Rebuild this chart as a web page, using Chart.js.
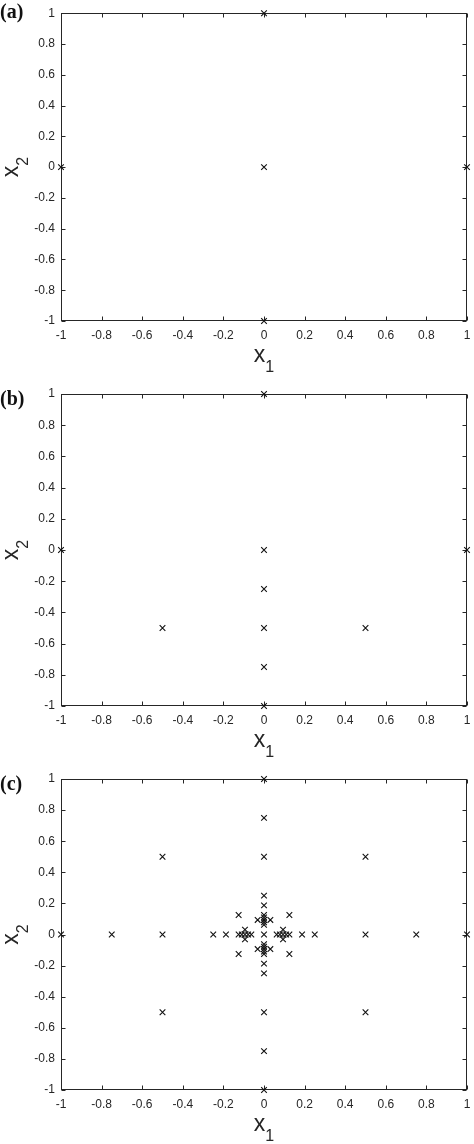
<!DOCTYPE html>
<html>
<head>
<meta charset="utf-8">
<script src="https://cdn.jsdelivr.net/npm/chart.js@4.4.1/dist/chart.umd.min.js"></script>
<style>
  html, body { margin: 0; padding: 0; background: #fff; width: 474px; height: 1144px; overflow: hidden; }
  .panel { position: absolute; left: 0; width: 474px; }
</style>
</head>
<body>
<div class="panel" style="top:0px;height:380px"><canvas id="ca" width="474" height="380"></canvas></div>
<div class="panel" style="top:380px;height:385px"><canvas id="cb" width="474" height="385"></canvas></div>
<div class="panel" style="top:765px;height:379px"><canvas id="cc" width="474" height="379"></canvas></div>
<script>
// ---- data ----
const tickValues = [-1, -0.8, -0.6, -0.4, -0.2, 0, 0.2, 0.4, 0.6, 0.8, 1];
const tickLabels = ['-1', '-0.8', '-0.6', '-0.4', '-0.2', '0', '0.2', '0.4', '0.6', '0.8', '1'];
const panelLabels = ['(a)', '(b)', '(c)'];
const xTitle = ['x', '1'];
const yTitle = ['x', '2'];

const aX = [0, -1, 1, 0, 0];
const aY = [0, 0, 0, -1, 1];

const bX = [0, -1, 1, 0, 0, 0, 0, 0, -0.5, 0.5];
const bY = [0, 0, 0, -1, 1, -0.25, -0.5, -0.75, -0.5, -0.5];

const cX = [
  0,
  -1, 1, 0, 0,
  -0.75, 0.75, 0, 0,
  -0.5, 0.5, 0, 0,
  -0.5, 0.5, -0.5, 0.5,
  -0.25, 0.25, 0, 0,
  -0.1875, 0.1875, 0, 0,
  -0.125, 0.125, -0.125, 0.125,
  -0.125, -0.109375, -0.09375, -0.078125, -0.0625, -0.09375, -0.09375,
  0.125, 0.109375, 0.09375, 0.078125, 0.0625, 0.09375, 0.09375,
  0, 0, 0, 0, 0, 0.03125, -0.03125,
  0, 0, 0, 0, 0, 0.03125, -0.03125
];
const cY = [
  0,
  0, 0, -1, 1,
  0, 0, -0.75, 0.75,
  0, 0, -0.5, 0.5,
  -0.5, -0.5, 0.5, 0.5,
  0, 0, -0.25, 0.25,
  0, 0, -0.1875, 0.1875,
  -0.125, -0.125, 0.125, 0.125,
  0, 0, 0, 0, 0, 0.03125, -0.03125,
  0, 0, 0, 0, 0, 0.03125, -0.03125,
  0.125, 0.109375, 0.09375, 0.078125, 0.0625, 0.09375, 0.09375,
  -0.125, -0.109375, -0.09375, -0.078125, -0.0625, -0.09375, -0.09375
];

// ---- styling ----
const AXIS_COLOR = '#262626';
const SANS = '"Liberation Sans", Arial, sans-serif';

const framePlugin = {
  id: 'frame',
  beforeDatasetsDraw(chart) {
    const ctx = chart.ctx;
    const a = chart.chartArea;
    const xs = chart.scales.x, ys = chart.scales.y;
    ctx.save();
    ctx.strokeStyle = AXIS_COLOR;
    ctx.lineWidth = 1;
    const L = Math.round(a.left) + 0.5, R = Math.round(a.right) - 0.5;
    const T = Math.round(a.top) + 0.5, B = Math.round(a.bottom) - 0.5;
    ctx.strokeRect(L, T, R - L, B - T);
    const tl = 4;
    ctx.beginPath();
    xs.ticks.forEach(t => {
      const px = Math.round(xs.getPixelForValue(t.value)) + 0.5;
      ctx.moveTo(px, B); ctx.lineTo(px, B - tl);
      ctx.moveTo(px, T); ctx.lineTo(px, T + tl);
    });
    ys.ticks.forEach(t => {
      const py = Math.round(ys.getPixelForValue(t.value)) + 0.5;
      ctx.moveTo(L, py); ctx.lineTo(L + tl, py);
      ctx.moveTo(R, py); ctx.lineTo(R - tl, py);
    });
    ctx.stroke();
    ctx.restore();
  },
  afterDraw(chart) {
    const ctx = chart.ctx;
    const a = chart.chartArea;
    const o = chart.options.plugins.frame;
    ctx.save();
    ctx.fillStyle = '#111';
    // panel label
    ctx.font = 'bold 20px "Liberation Serif", "Times New Roman", serif';
    ctx.textBaseline = 'alphabetic';
    ctx.textAlign = 'left';
    ctx.fillText(o.label, 0, o.labelBaseline);
    // x axis title
    ctx.fillStyle = AXIS_COLOR;
    const big = '23px ' + SANS, small = '16px ' + SANS;
    ctx.font = big; const w1 = ctx.measureText(xTitle[0]).width;
    ctx.font = small; const w2 = ctx.measureText(xTitle[1]).width;
    const cx = (a.left + a.right) / 2;
    const x0 = cx - (w1 + w2) / 2;
    const by = a.bottom + 41;
    ctx.font = big; ctx.fillText(xTitle[0], x0, by);
    ctx.font = small; ctx.fillText(xTitle[1], x0 + w1, by + 10);
    // y axis title (rotated)
    ctx.font = big; const v1 = ctx.measureText(yTitle[0]).width;
    ctx.font = small; const v2 = ctx.measureText(yTitle[1]).width;
    const cy = (a.top + a.bottom) / 2;
    ctx.translate(18, cy + (v1 + v2) / 2);
    ctx.rotate(-Math.PI / 2);
    ctx.font = big; ctx.fillText(yTitle[0], 0, 0);
    ctx.font = small; ctx.fillText(yTitle[1], v1, 10);
    ctx.restore();
  }
};

function makeChart(id, xs, ys, label, labelBaseline, padTop, xAxisHeight) {
  const pts = xs.map((x, i) => ({ x: x, y: ys[i] }));
  return new Chart(document.getElementById(id), {
    type: 'scatter',
    data: {
      datasets: [{
        data: pts,
        pointStyle: 'crossRot',
        pointRadius: 4,
        pointHoverRadius: 4,
        borderWidth: 1.1,
        borderColor: '#111',
        backgroundColor: '#111',
        clip: false
      }]
    },
    options: {
      responsive: false,
      animation: false,
      devicePixelRatio: 1,
      layout: { padding: { top: padTop, right: 7, left: 0, bottom: 0 } },
      plugins: {
        legend: { display: false },
        tooltip: { enabled: false },
        frame: { label: label, labelBaseline: labelBaseline }
      },
      scales: {
        x: {
          type: 'linear', min: -1, max: 1,
          afterBuildTicks: s => { s.ticks = tickValues.map(v => ({ value: v })); },
          afterFit: s => { s.height = xAxisHeight; s.paddingLeft = 0; s.paddingRight = 0; },
          grid: { display: false, drawTicks: false },
          border: { display: false },
          ticks: {
            padding: 7, color: AXIS_COLOR, maxRotation: 0, autoSkip: false,
            font: { family: SANS, size: 12 },
            callback: (v, i) => tickLabels[i]
          }
        },
        y: {
          type: 'linear', min: -1, max: 1,
          afterBuildTicks: s => { s.ticks = tickValues.map(v => ({ value: v })); },
          afterFit: s => { s.width = 61; },
          grid: { display: false, drawTicks: false },
          border: { display: false },
          ticks: {
            padding: 6, color: AXIS_COLOR, autoSkip: false,
            font: { family: SANS, size: 12 },
            callback: (v, i) => tickLabels[i]
          }
        }
      }
    },
    plugins: [framePlugin]
  });
}

makeChart('ca', aX, aY, panelLabels[0], 18, 9.5, 59);
makeChart('cb', bX, bY, panelLabels[1], 25, 14, 59);
makeChart('cc', cX, cY, panelLabels[2], 25, 14, 54);
</script>
</body>
</html>
